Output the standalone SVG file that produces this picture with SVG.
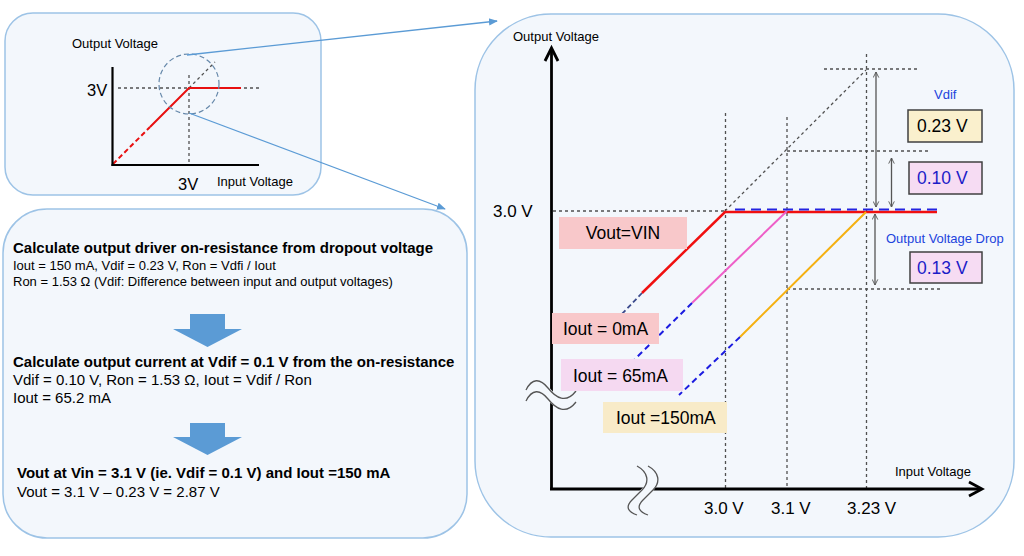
<svg xmlns="http://www.w3.org/2000/svg" width="1024" height="556" viewBox="0 0 1024 556">
<defs>
<style>
.panel{fill:#f3f7fc;stroke:#9dc3e6;stroke-width:1.5}
.t{font-family:"Liberation Sans",Arial,sans-serif;fill:#000}
.axis{stroke:#000;stroke-width:2.8;fill:none}
.grid{stroke:#505050;stroke-width:1.3;stroke-dasharray:3 3;fill:none}
.vbox{stroke:#404040;stroke-width:1.5}
.dim{stroke:#555;stroke-width:1.3;fill:none;marker-start:url(#dimA);marker-end:url(#dimA)}
.conn{stroke:#5b9bd5;stroke-width:1.3;fill:none;marker-end:url(#connA)}
.blk{fill:#5b9bd5}
.brk{stroke:#555;stroke-width:1.3;fill:none}
</style>
<marker id="dimA" viewBox="0 0 10 10" refX="9" refY="5" markerWidth="7" markerHeight="7" orient="auto-start-reverse" markerUnits="userSpaceOnUse">
<path d="M1,1 L9,5 L1,9" fill="none" stroke="#555" stroke-width="1.3"/>
</marker>
<marker id="connA" viewBox="0 0 10 10" refX="9" refY="5" markerWidth="9" markerHeight="9" orient="auto" markerUnits="userSpaceOnUse">
<path d="M0,1 L10,5 L0,9 Z" fill="#5b9bd5"/>
</marker>
</defs>
<rect width="1024" height="556" fill="#fff"/>

<g id="panel-small">
<rect class="panel" x="5" y="13" width="316" height="182" rx="28"/>
<text class="t" x="72" y="48" font-size="13">Output Voltage</text>
<line x1="118" y1="88" x2="262" y2="88" class="grid"/>
<line x1="189" y1="75" x2="189" y2="165" class="grid"/>
<line x1="189" y1="88" x2="215" y2="62" class="grid"/>
<line x1="113" y1="164" x2="150" y2="127" stroke="#e81010" stroke-width="2" stroke-dasharray="5 3"/>
<polyline points="150,127 189,88 241,88" fill="none" stroke="#e81010" stroke-width="2"/>
<line x1="112.5" y1="67" x2="112.5" y2="166" stroke="#000" stroke-width="2.2"/>
<line x1="111.5" y1="165" x2="259" y2="165" stroke="#000" stroke-width="2.2"/>
<circle cx="189" cy="84" r="30" fill="none" stroke="#6688aa" stroke-width="1.2" stroke-dasharray="5 3"/>
<text class="t" x="87" y="96" font-size="16.5">3V</text>
<text class="t" x="178" y="190" font-size="16.5">3V</text>
<text class="t" x="217" y="186" font-size="13">Input Voltage</text>
</g>

<g id="panel-calc">
<rect class="panel" x="3" y="209" width="464" height="329" rx="44"/>
<text class="t" x="13" y="253" font-size="15" font-weight="bold">Calculate output driver on-resistance from dropout voltage</text>
<text class="t" x="13" y="270" font-size="13">Iout = 150 mA, Vdif = 0.23 V, Ron = Vdfi / Iout</text>
<text class="t" x="13" y="286" font-size="13">Ron = 1.53 Ω (Vdif: Difference between input and output voltages)</text>
<polygon class="blk" points="190,314 225,314 225,329 242,329 207.5,347 173,329 190,329"/>
<text class="t" x="13" y="367" font-size="15" font-weight="bold">Calculate output current at Vdif = 0.1 V from the on-resistance</text>
<text class="t" x="13" y="385" font-size="15">Vdif = 0.10 V, Ron = 1.53 Ω, Iout = Vdif / Ron</text>
<text class="t" x="13" y="403" font-size="15">Iout = 65.2 mA</text>
<polygon class="blk" points="190,423 225,423 225,437 242,437 207.5,455 173,437 190,437"/>
<text class="t" x="17" y="478" font-size="15" font-weight="bold">Vout at Vin = 3.1 V (ie. Vdif = 0.1 V) and Iout =150 mA</text>
<text class="t" x="17" y="497" font-size="15">Vout = 3.1 V – 0.23 V = 2.87 V</text>
</g>

<g id="panel-chart">
<rect class="panel" x="475" y="14" width="539" height="523" rx="76"/>
<text class="t" x="513" y="41" font-size="13">Output Voltage</text>
<!-- grid -->
<line x1="553" y1="211" x2="725" y2="211" class="grid"/>
<line x1="725.5" y1="113" x2="725.5" y2="488" class="grid"/>
<line x1="787" y1="117" x2="787" y2="488" class="grid"/>
<line x1="866.5" y1="54" x2="866.5" y2="488" class="grid"/>
<line x1="824" y1="69" x2="918" y2="69" class="grid"/>
<line x1="787" y1="151" x2="930" y2="151" class="grid"/>
<line x1="787" y1="289" x2="942" y2="289" class="grid"/>
<line x1="725" y1="211" x2="866" y2="70" class="grid" stroke-dasharray="4 3"/>
<!-- curves -->
<line x1="642" y1="293" x2="621" y2="315" stroke="#3b4a8c" stroke-width="1.8" stroke-dasharray="5 3"/>
<polyline points="642,293 725,212 937,212" fill="none" stroke="#f01010" stroke-width="2.5"/>
<line x1="787" y1="211" x2="692" y2="303" stroke="#ee5fc8" stroke-width="2"/>
<line x1="692" y1="303" x2="632" y2="362" stroke="#1c1ce0" stroke-width="2" stroke-dasharray="6 4"/>
<line x1="866" y1="212" x2="740" y2="337" stroke="#f5b010" stroke-width="2"/>
<line x1="740" y1="337" x2="679" y2="395" stroke="#1c1ce0" stroke-width="2" stroke-dasharray="6 4"/>
<line x1="735" y1="209.5" x2="943" y2="209.5" stroke="#2424e0" stroke-width="2.2" stroke-dasharray="10 6"/>
<!-- dimension arrows -->
<line class="dim" x1="876" y1="72" x2="876" y2="207"/>
<line class="dim" x1="891.5" y1="158" x2="891.5" y2="207"/>
<line class="dim" x1="875" y1="214" x2="875" y2="285"/>
<!-- axes -->
<line x1="551.5" y1="48" x2="551.5" y2="490" class="axis"/>
<line x1="550" y1="489" x2="981" y2="489" class="axis"/>
<polyline points="545,61 551.5,48 558,61" class="axis"/>
<polyline points="969,482 982,489 969,496" class="axis"/>
<!-- axis breaks -->
<path d="M526,395.5 C532,383.5 540,383.5 548,393.5 S566,409.5 576,396.5" stroke="#f3f7fc" stroke-width="10" fill="none"/>
<path class="brk" d="M526,390 C532,378 540,378 548,388 S566,404 576,391"/>
<path class="brk" d="M526,401 C532,389 540,389 548,399 S566,415 576,402"/>
<path d="M642.5,466 C653.5,472 655.5,482 647.5,490 L637.5,500 C630.5,507 633.5,512 642.5,515" stroke="#f3f7fc" stroke-width="10" fill="none"/>
<path class="brk" d="M637,466 C648,472 650,482 642,490 L632,500 C625,507 628,512 637,515"/>
<path class="brk" d="M648,466 C659,472 661,482 653,490 L643,500 C636,507 639,512 648,515"/>
<!-- labels -->
<text class="t" x="493" y="217" font-size="17">3.0 V</text>
<text class="t" x="704" y="514" font-size="17">3.0 V</text>
<text class="t" x="771" y="514" font-size="17">3.1 V</text>
<text class="t" x="847" y="514" font-size="17">3.23 V</text>
<text class="t" x="895" y="476" font-size="13">Input Voltage</text>
<rect x="559" y="217" width="128" height="32" fill="#f8c8ca"/>
<text class="t" x="623" y="239" font-size="17.5" text-anchor="middle">Vout=VIN</text>
<rect x="552" y="313" width="107" height="31" fill="#f8c8ca"/>
<text class="t" x="563" y="335" font-size="17.5">Iout = 0mA</text>
<rect x="561" y="359" width="122" height="32" fill="#f5d9f1"/>
<text class="t" x="573" y="382" font-size="17.5">Iout = 65mA</text>
<rect x="603" y="402" width="124" height="31" fill="#f8ebc8"/>
<text class="t" x="616" y="424" font-size="17.5">Iout =150mA</text>
<text class="t" x="934" y="99" font-size="13" style="fill:#2244dd">Vdif</text>
<rect class="vbox" x="908" y="110" width="74" height="32" fill="#faf0cd"/>
<text class="t" x="917" y="132" font-size="17.5">0.23 V</text>
<rect class="vbox" x="909" y="162" width="73" height="32" fill="#f6dcf3"/>
<text class="t" x="917" y="184" font-size="17.5" style="fill:#1c1cc8">0.10 V</text>
<text class="t" x="886" y="243" font-size="13" style="fill:#2244dd">Output Voltage Drop</text>
<rect class="vbox" x="910" y="252" width="72" height="31" fill="#f6dcf3"/>
<text class="t" x="917" y="274" font-size="17.5" style="fill:#1c1cc8">0.13 V</text>
</g>

<g id="connectors">
<line class="conn" x1="187" y1="55" x2="497" y2="21"/>
<line class="conn" x1="189" y1="113" x2="445" y2="209"/>
</g>
</svg>
